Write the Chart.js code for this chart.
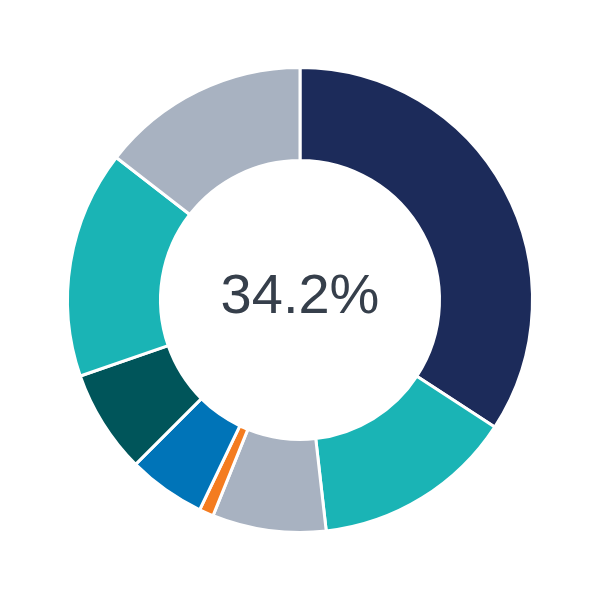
<!DOCTYPE html>
<html>
<head>
<meta charset="utf-8">
<script src="https://cdn.jsdelivr.net/npm/chart.js@4/dist/chart.umd.min.js"></script>
<style>
  html, body { margin: 0; padding: 0; background: #fff; }
  #wrap { width: 600px; height: 600px; }
</style>
</head>
<body>
<div id="wrap"><canvas id="chart"></canvas></div>
<script>
// slices, clockwise from 12 o'clock
const categories = ['A', 'B', 'C', 'D', 'E', 'F', 'G', 'H'];
const shares = [34.2, 14.0, 7.9, 1.0, 5.4, 7.2, 15.8, 14.5];
const sliceColors = ['#1c2b5a', '#1ab4b5', '#a8b2c1', '#f47c20', '#0074b8', '#00555a', '#1ab4b5', '#a8b2c1'];
const centerLabel = '34.2%';

// center text
const centerText = {
    id: 'centerText',
    afterDraw(chart) {
        const { ctx, chartArea } = chart;
        const cx = (chartArea.left + chartArea.right) / 2;
        const cy = (chartArea.top + chartArea.bottom) / 2;
        ctx.save();
        ctx.font = '56px "Liberation Sans", Arial, sans-serif';
        ctx.fillStyle = '#363f4b';
        ctx.textAlign = 'center';
        ctx.textBaseline = 'middle';
        ctx.fillText(centerLabel, cx, cy - 2);
        ctx.restore();
    }
};

new Chart(document.getElementById('chart'), {
    type: 'doughnut',
    data: {
        labels: categories,
        datasets: [{
            data: shares,
            backgroundColor: sliceColors,
            borderColor: '#ffffff',
            borderWidth: 3
        }]
    },
    options: {
        responsive: true,
        maintainAspectRatio: false,
        animation: false,
        cutout: '60%',
        layout: { padding: 66 },
        plugins: {
            legend: { display: false },
            tooltip: { enabled: false }
        }
    },
    plugins: [centerText]
});
</script>
</body>
</html>
